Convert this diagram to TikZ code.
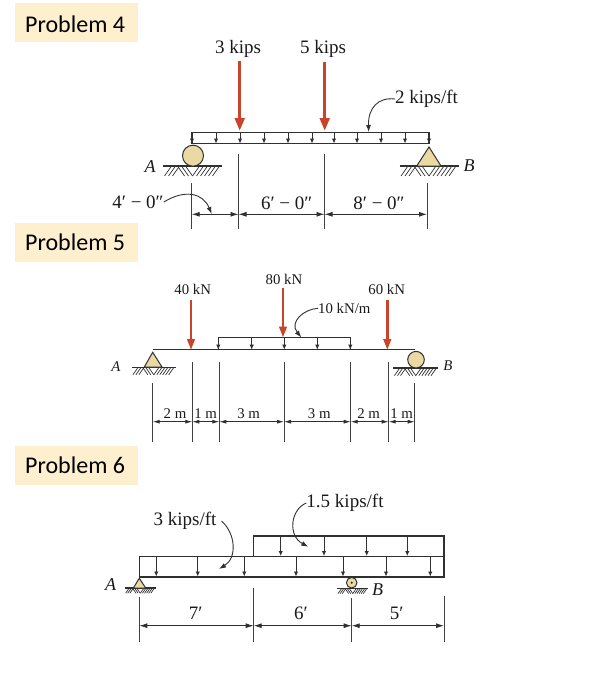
\documentclass[tikz,border=0pt]{standalone}
\usepackage{fontspec}
\setmainfont{Liberation Serif}
\newfontfamily\headfont{Carlito}
\usetikzlibrary{arrows.meta}
\definecolor{headbg}{HTML}{FEF0CF}
\definecolor{forcered}{HTML}{C9442B}
\definecolor{supportfill}{HTML}{EBD9A3}
\definecolor{beamline}{HTML}{303030}

\tikzset{
    headbox/.style={fill=headbg,draw=none,minimum width=123pt,minimum height=39pt,inner sep=0pt},
    headtext/.style={font=\headfont\fontsize{24}{24}\selectfont,inner sep=0pt,anchor=west,text=black},
    biglabel/.style={font=\fontsize{19}{19}\selectfont,inner sep=0pt,text=black!90},
    smalllabel/.style={font=\fontsize{14.8}{14.8}\selectfont,inner sep=0pt,text=black!90},
    force/.style={-{Triangle[length=13pt,width=9.5pt]},line width=3.3pt,draw=forcered},
    smallforce/.style={-{Triangle[length=11pt,width=7.5pt]},line width=2.5pt,draw=forcered},
    loadtick/.style={-{Latex[length=5pt,width=4.4pt]},line width=0.9pt,draw=beamline},
    leader/.style={-{Latex[length=7pt,width=5pt]},line width=0.9pt,draw=beamline},
    dimline/.style={{Latex[length=8pt,width=5pt]}-{Latex[length=8pt,width=5pt]},line width=0.9pt,draw=beamline},
    smalldim/.style={{Latex[length=7pt,width=4pt]}-{Latex[length=7pt,width=4pt]},line width=0.8pt,draw=beamline},
    extline/.style={line width=0.9pt,draw=black!75},
    beam/.style={line width=1.1pt,draw=beamline},
    support/.style={line width=1pt,draw=beamline,fill=supportfill}
}

% ground line with its hatching: x, y, half width
\newcommand{\groundhatch}[3]{
    \draw[beam] (#1-#3,#2) -- (#1+#3,#2);
    \begin{scope}[shift={(#1,#2)},scale=#3/29.5]
        \foreach \dx in {-21,-17,-13} \draw[line width=0.7pt,draw=beamline] (\dx,0) -- (\dx-7,10);
        \foreach \dx in {-15,-11,-7} \draw[line width=0.7pt,draw=beamline] (\dx,0) -- (\dx+7,10);
        \foreach \dx in {7,11,15,19,23,27} \draw[line width=0.7pt,draw=beamline] (\dx,0) -- (\dx-7,10);
    \end{scope}
}

\begin{document}
\begin{tikzpicture}[x=1pt,y=-1pt]
    \useasboundingbox (0,0) rectangle (611,677);

    \node[headbox] (head4) at (76.5,23) {};
    \node[headtext] (title4) at (25,24) {Problem 4};
    \node[headbox] (head5) at (76.5,242) {};
    \node[headtext] (title5) at (25,242) {Problem 5};
    \node[headbox] (head6) at (76.5,465) {};
    \node[headtext] (title6) at (25,465) {Problem 6};

    % problem 4
    \draw[beam] (192,132.5) rectangle (429,143.5);
    \foreach \x in {192,216,240,264,288,312,334,357,381,405,429}
        \draw[loadtick] (\x,132.5) -- (\x,143.5);
    \draw[force] (239.7,61) -- (239.7,131);
    \draw[force] (324.7,62) -- (324.7,131);
    \node[biglabel] (kips3) at (238,49) {3 kips};
    \node[biglabel] (kips5) at (323,49) {5 kips};
    \node[biglabel,anchor=west] (rate4) at (395,99) {2 kips/ft};
    \draw[leader] (rate4.west) .. controls (378,97) and (368,108) .. (368.7,132);
    \groundhatch{192.5}{166}{29.5}
    \groundhatch{429}{166}{29.5}
    \draw[support] (193,155.7) circle (10.5);
    \draw[support] (429,147) -- (416.7,166) -- (441,166) -- cycle;
    \node[biglabel,font=\itshape\fontsize{18}{18}\selectfont] (pinA4) at (150,167) {A};
    \node[biglabel,font=\itshape\fontsize{18}{18}\selectfont] (pinB4) at (469,166) {B};
    \foreach \x/\ya in {191.7/183,238.5/154,324.5/154,427/183}
        \draw[extline] (\x,\ya) -- (\x,229);
    \foreach \a/\b in {191.7/238.5,238.5/324.5,324.5/427}
        \draw[dimline] (\a,214.3) -- (\b,214.3);
    \node[biglabel] (dim4a) at (138,202) {4′ − 0″};
    \node[biglabel] (dim4b) at (286.7,203) {6′ − 0″};
    \node[biglabel] (dim4c) at (379,203) {8′ − 0″};
    \draw[leader] (dim4a.east) .. controls (185,189) and (203,193) .. (211.7,214);

    % problem 5
    \draw[beam] (153.3,349.7) -- (415,349.7);
    \draw[beam] (218.3,349.7) -- (218.3,337.7) -- (350.3,337.7) -- (350.3,349.7);
    \draw[line width=1.5pt,draw=beamline] (218.3,349.7) -- (350.3,349.7);
    \foreach \x in {218.3,251.7,284.3,317.3,350.3}
        \draw[loadtick] (\x,337.7) -- (\x,349.7);
    \draw[smallforce] (191,299.5) -- (191,350);
    \draw[smallforce] (283,287.5) -- (283,337.5);
    \draw[smallforce] (387.3,299.5) -- (387.3,350);
    \node[smalllabel] (kN40) at (192.7,289) {40 kN};
    \node[smalllabel] (kN80) at (284,279) {80 kN};
    \node[smalllabel] (kN60) at (386.7,289) {60 kN};
    \node[smalllabel,anchor=west] (rate5) at (318,308.3) {10 kN/m};
    \draw[leader] (rate5.west) .. controls (304,309) and (289,322) .. (301.3,337.5);
    \groundhatch{153.8}{367.3}{22}
    \groundhatch{415.8}{368}{22.5}
    \draw[support] (152.7,352.3) -- (144.3,367) -- (162,367) -- cycle;
    \draw[support] (416,359.7) circle (8.3);
    \node[smalllabel,font=\itshape\fontsize{14.8}{14.8}\selectfont] (pinA5) at (116,367) {A};
    \node[smalllabel,font=\itshape\fontsize{14.8}{14.8}\selectfont] (pinB5) at (448,366) {B};
    \foreach \x/\ya in {152.7/383.3,192.3/361.7,219.3/361.7,284/361.7,350.7/361.7,388.7/361.7,414.7/383.3}
        \draw[extline] (\x,\ya) -- (\x,441.7);
    \foreach \a/\b in {152.7/192.3,192.3/219.3,219.3/284,284/350.7,350.7/388.7,388.7/414.7}
        \draw[smalldim] (\a,421.7) -- (\b,421.7);
    \foreach \x/\txt/\nm in {175/2 m/m2a,205.7/1 m/m1a,248.7/3 m/m3a,319.3/3 m/m3b,368.7/2 m/m2b,401.7/1 m/m1b}
        \node[smalllabel] (\nm) at (\x,414) {\txt};

    % problem 6
    \draw[beam] (139.3,556.3) -- (444,556.3) -- (444,577) -- (139.3,577) -- cycle;
    \draw[beam] (253.7,556.3) -- (253.7,536) -- (444,536) -- (444,556.3);
    \foreach \x in {156.3,197.7,244.3,296,343,386,430.3}
        \draw[loadtick] (\x,556.3) -- (\x,576.5);
    \foreach \x in {280.7,324,366.7,407.3}
        \draw[loadtick] (\x,536) -- (\x,556);
    \node[biglabel] (rate6a) at (185,521) {3 kips/ft};
    \node[biglabel] (rate6b) at (345,503) {1.5 kips/ft};
    \draw[leader] (rate6a.east) ++(5,0) .. controls (236,534) and (237,558) .. (219,569);
    \draw[leader] (rate6b.west) .. controls (290,510) and (288,536) .. (308.3,546.7);
    \groundhatch{140.3}{588}{15.5}
    \groundhatch{352.8}{588.3}{15.5}
    \draw[support] (139.3,578.3) -- (133.3,588) -- (145.7,588) -- cycle;
    \draw[support] (351.7,582.7) circle (5.3);
    \fill[beamline] (351.7,582.7) circle (1.2);
    \node[biglabel,font=\itshape\fontsize{18}{18}\selectfont] (pinA6) at (110.7,585) {A};
    \node[biglabel,font=\itshape\fontsize{18}{18}\selectfont] (pinB6) at (377.7,590) {B};
    \foreach \x/\ya in {139.3/596.7,253.7/588.3,351.7/598,444/595.7}
        \draw[extline] (\x,\ya) -- (\x,642.3);
    \foreach \a/\b in {139.3/253.7,253.7/351.7,351.7/444}
        \draw[dimline] (\a,625.7) -- (\b,625.7);
    \node[biglabel] (dim6a) at (195.7,613) {7′};
    \node[biglabel] (dim6b) at (301,613) {6′};
    \node[biglabel] (dim6c) at (396.7,613) {5′};
\end{tikzpicture}
\end{document}
